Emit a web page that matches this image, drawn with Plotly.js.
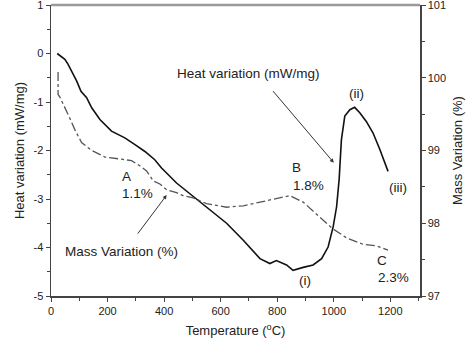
<!DOCTYPE html>
<html><head><meta charset="utf-8">
<script src="https://cdn.plot.ly/plotly-3.0.1.min.js"></script>
<style>html,body{margin:0;padding:0;background:#fff}#chart{width:474px;height:353px}</style>
</head><body><div id="chart"></div>
<script>
const heatTemp = [22,35,49,60,73,91,106,126,144,173,214,261,297,332,367,391,444,503,562,621,680,739,774,797,833,856,892,927,957,980,998,1010,1019,1027,1039,1057,1074,1092,1115,1139,1163,1192];
const heatValue = [0.00,-0.05,-0.12,-0.22,-0.36,-0.57,-0.78,-0.91,-1.12,-1.36,-1.60,-1.74,-1.88,-2.02,-2.19,-2.36,-2.67,-2.95,-3.23,-3.50,-3.85,-4.23,-4.33,-4.27,-4.36,-4.47,-4.41,-4.36,-4.23,-3.99,-3.57,-3.16,-2.60,-1.78,-1.29,-1.16,-1.11,-1.22,-1.40,-1.64,-1.98,-2.43];
const massTemp = [25,25,32,49,67,85,108,144,191,250,285,314,338,362,385,409,444,467,503,550,562,621,680,739,797,845,892,951,998,1045,1104,1151,1192];
const massValue = [100.08,99.77,99.73,99.60,99.44,99.28,99.11,99.00,98.91,98.88,98.86,98.79,98.72,98.58,98.54,98.46,98.42,98.38,98.35,98.27,98.26,98.22,98.24,98.29,98.33,98.38,98.29,98.08,97.92,97.80,97.71,97.69,97.63];

const xTickVals = [0,200,400,600,800,1000,1200];
const xTickText = ['0','200','400','600','800','1000','1200'];
const yTickVals = [1,0,-1,-2,-3,-4,-5];
const yTickText = ['1','0','-1','-2','-3','-4','-5'];
const y2TickVals = [97,98,99,100,101];
const y2TickText = ['97','98','99','100','101'];

const labels = [
  {text:'Heat variation (mW/mg)', x:697, y:-0.41},
  {text:'A', x:267, y:-2.53},
  {text:'1.1%', x:307, y:-2.88},
  {text:'Mass Variation (%)', x:250, y:-4.09},
  {text:'B', x:869, y:-2.36},
  {text:'1.8%', x:910, y:-2.73},
  {text:'(ii)', x:1079, y:-0.82},
  {text:'(iii)', x:1228, y:-2.76},
  {text:'(i)', x:898, y:-4.67},
  {text:'C', x:1170, y:-4.26},
  {text:'2.3%', x:1211, y:-4.61}
];

const FONT = 'Liberation Sans, Arial, sans-serif';
const annFont = {family: FONT, size: 13.5, color: '#222'};

const annotations = labels.map(l => ({
  text: l.text, x: l.x, y: l.y, xref: 'x', yref: 'y',
  showarrow: false, font: annFont, xanchor: 'center', yanchor: 'middle'
}));
annotations.push({x: 1000, y: -2.25, xref: 'x', yref: 'y', text: '', showarrow: true,
  ax: -62, ay: -73, arrowhead: 2, arrowsize: 0.8, arrowwidth: 1, arrowcolor: '#333'});
annotations.push({x: 409, y: -2.92, xref: 'x', yref: 'y', text: '', showarrow: true,
  ax: -30, ay: 40, arrowhead: 2, arrowsize: 0.8, arrowwidth: 1, arrowcolor: '#333'});

const traces = [
  {x: heatTemp, y: heatValue, type: 'scatter', mode: 'lines', name: 'Heat variation',
   line: {color: '#111', width: 1.6}, yaxis: 'y'},
  {x: massTemp, y: massValue, type: 'scatter', mode: 'lines', name: 'Mass variation',
   line: {color: '#555', width: 1.3, dash: 'dashdot'}, yaxis: 'y2'}
];

const axisCommon = {
  showline: true, linecolor: '#444', linewidth: 1.5, ticks: 'outside', ticklen: 4,
  tickcolor: '#444', showgrid: false, zeroline: false, ticklabeloverflow: 'allow',
  tickfont: {family: FONT, size: 11, color: '#222'}
};

const layout = {
  width: 474, height: 353,
  margin: {l: 51, r: 54, t: 5, b: 57},
  paper_bgcolor: '#fff', plot_bgcolor: '#fff',
  showlegend: false,
  xaxis: Object.assign({}, axisCommon, {
    range: [0, 1305], tickvals: xTickVals, ticktext: xTickText,
    minor: {dtick: 100, ticks: 'outside', ticklen: 3, tickcolor: '#444'},
    title: {text: 'Temperature (<sup>o</sup>C)', font: {family: FONT, size: 13, color: '#222'}, standoff: 10}
  }),
  yaxis: Object.assign({}, axisCommon, {
    range: [-5, 1], tickvals: yTickVals, ticktext: yTickText,
    minor: {dtick: 0.5, ticks: 'outside', ticklen: 3, tickcolor: '#444'},
    title: {text: 'Heat variation (mW/mg)', font: {family: FONT, size: 13, color: '#222'}, standoff: 6}
  }),
  yaxis2: Object.assign({}, axisCommon, {
    range: [97, 101], tickvals: y2TickVals, ticktext: y2TickText,
    overlaying: 'y', side: 'right',
    minor: {dtick: 0.5, ticks: 'outside', ticklen: 3, tickcolor: '#444'},
    title: {text: 'Mass Variation (%)', font: {family: FONT, size: 13, color: '#222'}, standoff: 8}
  }),
  shapes: [{type: 'line', xref: 'paper', yref: 'paper', x0: 0, x1: 1, y0: 1, y1: 1,
    line: {color: '#999', width: 2.5}}],
  annotations: annotations
};

Plotly.newPlot('chart', traces, layout, {displayModeBar: false, staticPlot: true});
</script>
</body></html>
